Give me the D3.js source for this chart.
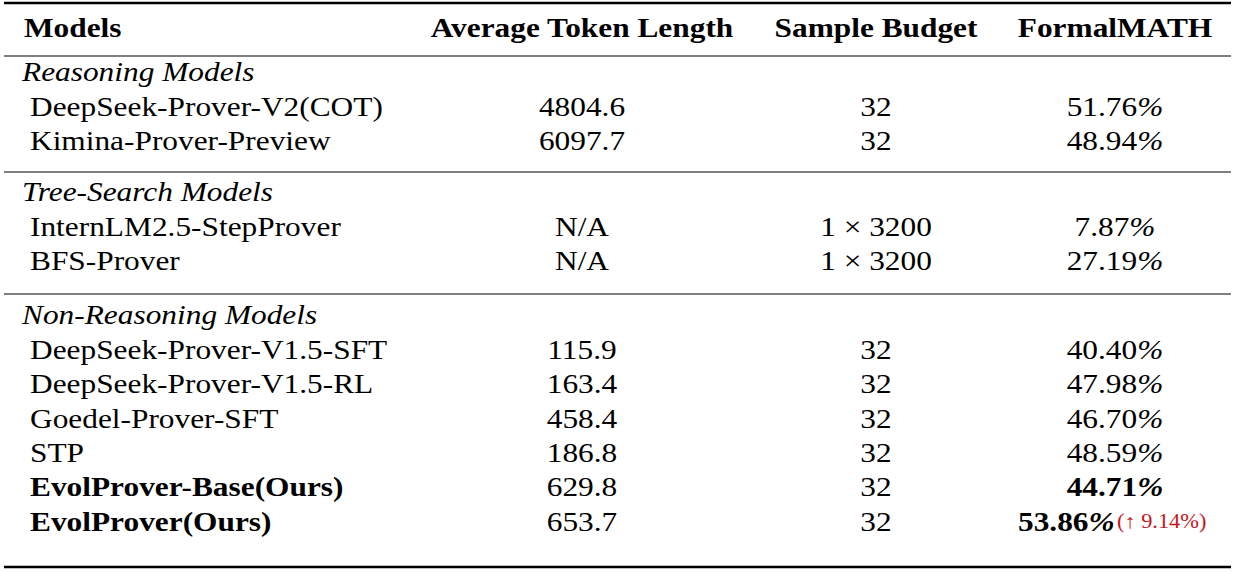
<!DOCTYPE html>
<html><head><meta charset="utf-8">
<script src="https://cdn.jsdelivr.net/npm/d3@7"></script>
<style>body{margin:0;background:#fff}text{font-family:"Liberation Serif","DejaVu Serif",serif;fill:#000}</style>
</head><body><svg id="t" width="1235" height="572"></svg>
<script>
var headers = ["Models", "Average Token Length", "Sample Budget", "FormalMATH"];
var groups = ["Reasoning Models", "Tree-Search Models", "Non-Reasoning Models"];
var models = [
  ["DeepSeek-Prover-V2(COT)", "Kimina-Prover-Preview"],
  ["InternLM2.5-StepProver", "BFS-Prover"],
  ["DeepSeek-Prover-V1.5-SFT", "DeepSeek-Prover-V1.5-RL", "Goedel-Prover-SFT", "STP", "EvolProver-Base(Ours)", "EvolProver(Ours)"]
];
var tokens = [["4804.6", "6097.7"], ["N/A", "N/A"], ["115.9", "163.4", "458.4", "186.8", "629.8", "653.7"]];
var budgets = [["32", "32"], ["1 \u00d7 3200", "1 \u00d7 3200"], ["32", "32", "32", "32", "32", "32"]];
var scores = [["51.76", "48.94"], ["7.87", "27.19"], ["40.40", "47.98", "46.70", "48.59", "44.71", "53.86"]];
var boldRows = ["EvolProver-Base(Ours)", "EvolProver(Ours)"];
var gain = "(\u2191 9.14%)";

var svg = d3.select("#t");
var fs = 28, sx = 1.12;
var colX = d3.scaleOrdinal().domain([1, 2, 3]).range([582, 876, 1115]);
var rowH = 34.4;
var groupY = [72, 192, 315];

function rule(y, w) {
  svg.append("line").attr("x1", 4).attr("x2", 1231).attr("y1", y).attr("y2", y)
    .attr("stroke", "#000").attr("stroke-width", w);
}
rule(3, 2.5); rule(56, 1.2); rule(172, 1.2); rule(294, 1.2); rule(567, 2.5);

function txt(x, y, anchor) {
  return svg.append("text")
    .attr("transform", "translate(" + x + "," + y + ") scale(" + sx + ",1)")
    .attr("dominant-baseline", "central").attr("text-anchor", anchor || "start")
    .attr("font-size", fs);
}

txt(24, 28).attr("font-weight", "bold").text(headers[0]);
[1, 2, 3].forEach(function(c) {
  txt(colX(c), 28, "middle").attr("font-weight", "bold").text(headers[c]);
});

groups.forEach(function(g, gi) {
  var y0 = groupY[gi];
  txt(22, y0).attr("font-style", "italic").text(g);
  models[gi].forEach(function(m, i) {
    var y = y0 + rowH * (i + 1);
    var b = boldRows.indexOf(m) >= 0;
    txt(30, y).attr("font-weight", b ? "bold" : null).text(m);
    txt(colX(1), y, "middle").text(tokens[gi][i]);
    txt(colX(2), y, "middle").text(budgets[gi][i]);
    var last = m === "EvolProver(Ours)";
    var t = txt(last ? 1018 : colX(3), y, last ? "start" : "middle").attr("font-weight", b ? "bold" : null);
    t.append("tspan").text(scores[gi][i]);
    t.append("tspan").attr("font-style", "italic").text("%");
    if (last) {
      t.append("tspan").attr("font-weight", "normal").attr("font-size", 20).style("fill", "#c8161d").attr("dx", 2).text(gain);
    }
  });
});
</script></body></html>
